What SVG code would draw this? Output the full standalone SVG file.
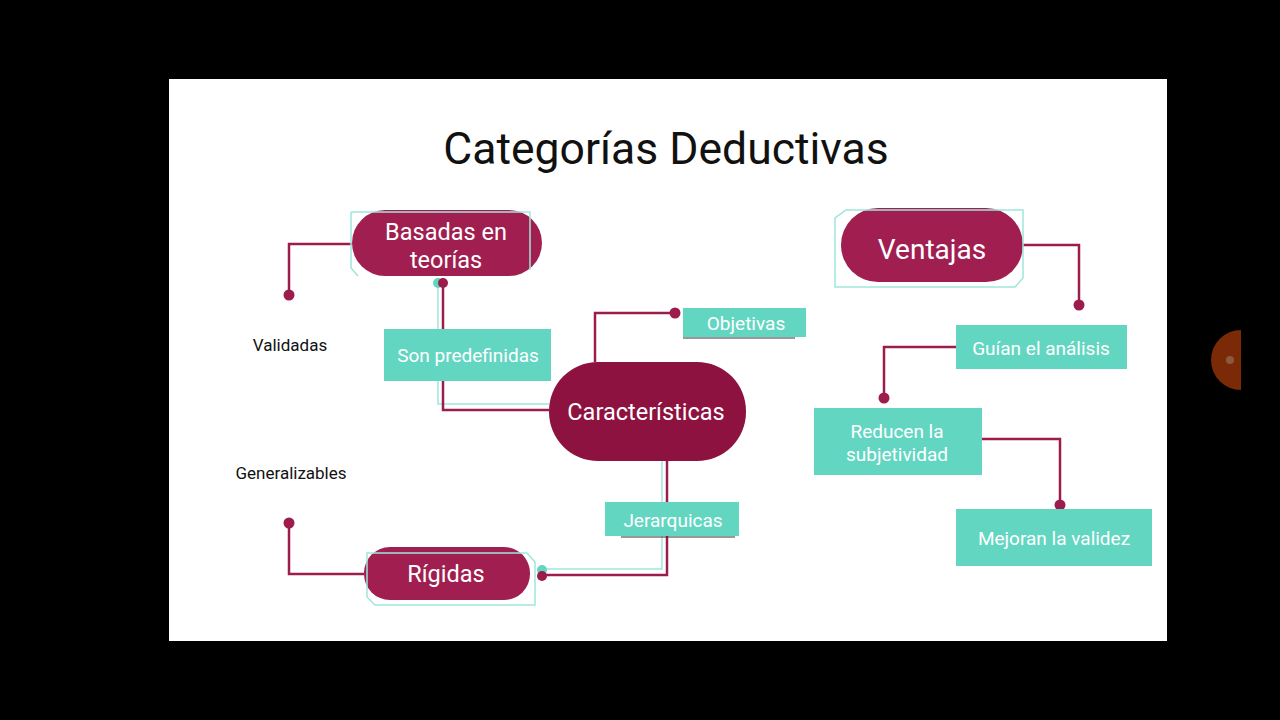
<svg xmlns="http://www.w3.org/2000/svg" width="1280" height="720" viewBox="0 0 1280 720">
<defs>
<style>
.pill{fill:#a11f50}
.teal{fill:#63d6c2}
.ol{fill:none;stroke:#9fe6da;stroke-width:1.5}
.ln{fill:none;stroke:#9c1c4c;stroke-width:2.5}
.dot{fill:#9c1c4c}
.wt{fill:#fff;font-family:Roboto,"Liberation Sans",sans-serif;text-anchor:middle}
.bt{fill:#111;font-family:Roboto,"Liberation Sans",sans-serif;font-size:17px;text-anchor:middle}
</style>
</defs>
<rect width="1280" height="720" fill="#000"/>
<rect x="169" y="79" width="998" height="562" fill="#fff"/>
<path d="M1241 330 A30 30 0 0 0 1241 390 Z" fill="#7a2a06"/>
<circle cx="1230" cy="360" r="4" fill="#8a5a40"/>
<text x="666" y="164" font-family="Roboto,'Liberation Sans',sans-serif" font-size="44.5" text-anchor="middle" fill="#111">Categorías Deductivas</text>
<g id="connectors">
<path class="ol" d="M438 283 V404 H549"/>
<path class="ol" d="M662 461 V569 H542"/>
<path class="ln" d="M352 244 H289 V295"/><circle class="dot" cx="289" cy="295" r="5.5"/>
<path class="ln" d="M549 410 H443 V283"/><circle class="teal" cx="438" cy="283" r="5"/><circle class="dot" cx="443" cy="283" r="5"/>
<path class="ln" d="M595 362 V313 H675"/><circle class="dot" cx="675" cy="313" r="5.5"/>
<path class="ln" d="M667 461 V575 H542"/><circle class="teal" cx="542" cy="570" r="5"/><circle class="dot" cx="542" cy="576" r="5"/>
<path class="ln" d="M364 574 H289 V523"/><circle class="dot" cx="289" cy="523" r="5.5"/>
<path class="ln" d="M1023 245 H1079 V305"/><circle class="dot" cx="1079" cy="305" r="5.5"/>
<path class="ln" d="M956 347 H884 V398"/><circle class="dot" cx="884" cy="398" r="5.5"/>
<path class="ln" d="M982 439 H1060 V505"/><circle class="dot" cx="1060" cy="505" r="5.5"/>
</g>
<g id="basadas"><rect class="pill" x="352" y="210" width="190" height="66" rx="33"/><path class="ol" d="M351 212 H530 V270 M351 212 V268 L358 276"/><text class="wt" font-size="23.5"><tspan x="446" y="240">Basadas en</tspan><tspan x="446" y="268">teorías</tspan></text></g>
<g id="ventajas"><rect class="pill" x="841" y="208" width="182" height="74" rx="37"/><path class="ol" d="M846 210 H1023 V278 L1015 287 H835 V218 Z"/><text class="wt" x="932" y="259" font-size="28">Ventajas</text></g>
<g id="caracteristicas"><rect fill="#8e1240" x="549" y="362" width="197" height="99" rx="49"/><text class="wt" x="646" y="420" font-size="23.5">Características</text></g>
<g id="rigidas"><rect class="pill" x="364" y="547" width="166" height="53" rx="26"/><path class="ol" d="M367 553 H527 L535 562 V605 H375 L367 597 Z"/><text class="wt" x="446" y="582" font-size="23.5">Rígidas</text></g>
<g id="son"><rect class="teal" x="384" y="329" width="167" height="52"/><text class="wt" x="468" y="362" font-size="19">Son predefinidas</text></g>
<g id="objetivas"><rect class="teal" x="683" y="308" width="123" height="29"/><path d="M683 338 H795" stroke="#333" stroke-width="1"/><text class="wt" x="746" y="330" font-size="19">Objetivas</text></g>
<g id="jerarquicas"><rect class="teal" x="605" y="502" width="134" height="34"/><path d="M621 537 H735" stroke="#333" stroke-width="1"/><text class="wt" x="673" y="527" font-size="19">Jerarquicas</text></g>
<g id="guian"><rect class="teal" x="956" y="325" width="171" height="44"/><text class="wt" x="1041" y="355" font-size="19">Guían el análisis</text></g>
<g id="reducen"><rect class="teal" x="814" y="408" width="168" height="67"/><text class="wt" font-size="19"><tspan x="897" y="438">Reducen la</tspan><tspan x="897" y="461">subjetividad</tspan></text></g>
<g id="mejoran"><rect class="teal" x="956" y="509" width="196" height="57"/><text class="wt" x="1054" y="545" font-size="19">Mejoran la validez</text></g>
<text class="bt" x="290" y="351">Validadas</text>
<text class="bt" x="291" y="479">Generalizables</text>
</svg>
